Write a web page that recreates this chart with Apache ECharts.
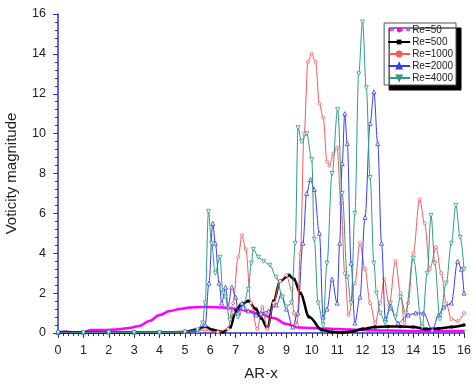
<!DOCTYPE html>
<html>
<head>
<meta charset="utf-8">
<script src="https://cdn.jsdelivr.net/npm/echarts@6/dist/echarts.min.js"></script>
<style>
html,body{margin:0;padding:0;background:#fff;}
#chart{width:474px;height:386px;}
</style>
</head>
<body>
<div id="chart"></div>
<script>
// ---- data ----
var seriesNames = ['Re=50', 'Re=500', 'Re=1000', 'Re=2000', 'Re=4000'];

var re50X = [0, 0.3, 0.6, 1.0, 1.3, 1.8, 2.3, 2.8, 3.2, 3.6, 4.0, 4.4, 4.8, 5.2, 5.6, 6.0, 6.5, 7.0, 7.5, 8.0, 8.5, 9.0, 9.5, 10.0, 10.5, 11.0, 11.5, 12.0, 13.0, 14.0, 15.0, 16.0];
var re50Y = [0.02, 0.08, 0.03, 0.05, 0.15, 0.15, 0.18, 0.25, 0.35, 0.6, 0.9, 1.1, 1.2, 1.28, 1.3, 1.3, 1.28, 1.22, 1.1, 0.95, 0.75, 0.45, 0.27, 0.25, 0.22, 0.2, 0.18, 0.15, 0.12, 0.1, 0.1, 0.1];

var re500X = [0, 1, 2, 3, 4, 5, 5.4, 5.8, 6.1, 6.5, 6.8, 7.0, 7.2, 7.5, 7.8, 8.0, 8.25, 8.5, 8.75, 9.1, 9.3, 9.55, 9.9, 10.4, 10.8, 11.2, 11.6, 12.0, 12.5, 13.0, 13.5, 14.0, 14.5, 15.0, 15.5, 16.0];
var re500Y = [0.02, 0.02, 0.02, 0.02, 0.03, 0.05, 0.15, 0.32, 0.15, 0.05, 0.3, 1.1, 1.4, 1.6, 1.2, 0.75, 0.25, 1.6, 2.6, 2.9, 2.7, 2.0, 0.8, 0.15, 0.05, 0.03, 0.08, 0.2, 0.3, 0.32, 0.32, 0.3, 0.2, 0.22, 0.3, 0.4];

var re1000X = [0, 1, 2, 3, 4, 5, 5.8, 6.3, 6.7, 6.9, 7.1, 7.25, 7.4, 7.6, 7.85, 8.05, 8.25, 8.5, 8.75, 9.0, 9.2, 9.3, 9.42, 9.55, 9.7, 9.85, 10.0, 10.15, 10.3, 10.45, 10.6, 10.7, 10.85, 11.0, 11.15, 11.3, 11.45, 11.7, 11.9, 12.1, 12.3, 12.5, 12.7, 12.85, 13.05, 13.3, 13.5, 13.65, 13.8, 14.0, 14.25, 14.45, 14.65, 14.9, 15.1, 15.3, 15.5, 15.75, 16.0];
var re1000Y = [0.02, 0.03, 0.03, 0.03, 0.03, 0.05, 0.15, 0.05, 0.2, 1.5, 3.8, 4.9, 4.2, 1.5, 0.2, 1.3, 0.2, 1.5, 2.6, 2.9, 2.2, 1.0, 0.4, 4.0, 10.0, 13.6, 14.0, 13.6, 11.5, 10.8, 8.6, 8.4, 9.0, 9.3, 6.5, 3.0, 0.9, 2.5, 4.5, 3.2, 1.5, 0.5, 1.5, 2.7, 1.4, 3.6, 2.0, 0.5, 1.5, 4.0, 6.7, 5.5, 3.2, 4.3, 3.0, 1.5, 0.7, 0.6, 1.0];

var re2000X = [0, 1, 2, 3, 4, 5, 5.5, 5.8, 5.95, 6.1, 6.2, 6.35, 6.45, 6.6, 6.7, 6.85, 7.0, 7.1, 7.25, 7.5, 7.8, 8.0, 8.3, 8.6, 8.8, 9.0, 9.25, 9.45, 9.65, 9.8, 9.95, 10.1, 10.3, 10.45, 10.6, 10.8, 11.0, 11.1, 11.2, 11.3, 11.4, 11.55, 11.7, 11.9, 12.1, 12.3, 12.45, 12.6, 12.75, 12.9, 13.1, 13.4, 13.8, 14.1, 14.4, 14.75, 15.0, 15.2, 15.5, 15.75, 15.9, 16.0];
var re2000Y = [0.02, 0.03, 0.05, 0.04, 0.05, 0.08, 0.1, 0.4, 2.5, 5.5, 4.5, 2.5, 1.5, 2.3, 1.3, 2.3, 1.8, 1.0, 1.5, 1.1, 0.9, 1.0, 1.1, 1.4, 1.9, 1.2, 0.3, 1.0, 4.5, 7.0, 7.7, 7.2, 5.0, 0.8, 1.2, 2.7, 1.5, 4.5, 8.5, 11.0, 9.5, 3.5, 0.5, 1.8, 5.8, 10.5, 12.1, 9.5, 4.5, 0.7, 1.25, 0.5, 0.9, 1.0, 1.0, 0.15, 0.9, 1.3, 1.5, 3.6, 3.2, 2.0];

var re4000X = [0, 1, 2, 3, 4, 5, 5.5, 5.7, 5.8, 5.93, 6.05, 6.2, 6.38, 6.5, 6.6, 6.77, 6.9, 7.1, 7.3, 7.5, 7.62, 7.7, 7.9, 8.1, 8.35, 8.6, 8.85, 9.0, 9.2, 9.35, 9.46, 9.6, 9.8, 10.0, 10.1, 10.25, 10.45, 10.6, 10.8, 11.02, 11.2, 11.4, 11.55, 11.7, 11.85, 12.0, 12.15, 12.3, 12.45, 12.55, 12.7, 12.9, 13.1, 13.3, 13.5, 13.7, 14.0, 14.35, 14.55, 14.7, 14.85, 15.05, 15.3, 15.5, 15.68, 15.85, 16.0];
var re4000Y = [0.02, 0.02, 0.03, 0.03, 0.03, 0.05, 0.15, 0.5, 1.5, 6.1, 4.5, 3.0, 3.8, 2.0, 1.8, 0.65, 1.0, 0.8, 1.2, 2.2, 3.5, 4.2, 3.8, 3.6, 3.4, 2.8, 1.8, 1.3, 1.5, 4.5, 10.3, 9.6, 10.0, 8.7, 4.7, 1.5, 0.4, 3.5, 8.0, 11.2, 7.0, 2.8, 1.5, 6.0, 13.0, 15.6, 12.3, 7.8, 3.5, 2.0, 1.0, 0.5, 1.5, 0.8, 1.8, 1.0, 3.75, 0.3, 3.0, 5.9, 3.5, 0.7, 2.5, 4.5, 6.4, 4.8, 3.2];

var xTicks = [0, 16, 1];   // min, max, interval
var yTicks = [0, 16, 2];

// ---- build ----
function pairs(xs, ys) { return xs.map(function (x, i) { return [x, ys[i]]; }); }

var colors = ['#ff00ff', '#000000', '#f25a5a', '#3a3af0', '#2f9a8a'];
var seriesData = [pairs(re50X, re50Y), pairs(re500X, re500Y), pairs(re1000X, re1000Y), pairs(re2000X, re2000Y), pairs(re4000X, re4000Y)];
var symbols = ['circle', 'rect', 'circle', 'triangle', 'triangle'];
var rotates = [0, 0, 0, 0, 180];
var widths = [2.5, 2.5, 1, 1, 1];
var sizes = [2, 3, 3, 4, 4];
var hollow = [false, false, true, true, true];

var series = seriesNames.map(function (n, i) {
  return {
    name: n,
    type: 'line',
    data: seriesData[i],
    smooth: 0.35,
    smoothMonotone: 'x',
    symbol: symbols[i],
    symbolRotate: rotates[i],
    symbolSize: sizes[i],
    showSymbol: true,
    showAllSymbol: true,
    z: 2 + i,
    lineStyle: { color: colors[i], width: widths[i] },
    itemStyle: hollow[i] ? { color: '#ffffff', borderColor: colors[i], borderWidth: 0.8 } : { color: colors[i] },
    emphasis: { disabled: true }
  };
});

var chart = echarts.init(document.getElementById('chart'), null, { renderer: 'canvas' });
var axisCol = '#3030d0';
var fontFam = '"Liberation Sans", Arial, sans-serif';
chart.setOption({
  animation: false,
  backgroundColor: '#ffffff',
  grid: { left: 58, right: 10, top: 14, bottom: 53, containLabel: false, outerBoundsMode: 'none' },
  legend: {
    orient: 'vertical',
    right: 18,
    top: 23,
    data: seriesNames.map(function (n, i) {
      var d = { name: n };
      if (hollow[i]) d.itemStyle = { color: colors[i] };
      if (i === 0) d.lineStyle = { type: 'dashed', width: 1.5 };
      return d;
    }),
    itemWidth: 22,
    itemHeight: 6,
    itemGap: 2,
    padding: [2, 3, 2, 3],
    backgroundColor: '#ffffff',
    borderColor: '#555555',
    borderWidth: 1,
    borderRadius: 0,
    shadowColor: '#000000',
    shadowOffsetX: 5,
    shadowOffsetY: 5,
    shadowBlur: 0,
    textStyle: { fontFamily: fontFam, fontSize: 10, color: '#222', padding: [0, 0, 0, -3] }
  },
  xAxis: {
    type: 'value',
    min: xTicks[0], max: xTicks[1], interval: xTicks[2],
    name: 'AR-x',
    nameLocation: 'middle',
    nameGap: 33,
    nameTextStyle: { fontFamily: fontFam, fontSize: 15, color: '#222' },
    axisLine: { show: true, lineStyle: { color: axisCol, width: 1.5 } },
    axisTick: { show: true, inside: false, length: 5, lineStyle: { color: '#333', width: 1 } },
    minorTick: { show: true, splitNumber: 5, length: 3, lineStyle: { color: '#333', width: 1 } },
    axisLabel: { margin: 11, fontFamily: fontFam, fontSize: 12.5, color: '#222' },
    splitLine: { show: false }
  },
  yAxis: {
    type: 'value',
    min: yTicks[0], max: yTicks[1], interval: yTicks[2],
    name: 'Voticity magnitude',
    nameLocation: 'middle',
    nameGap: 39,
    nameRotate: 90,
    nameTextStyle: { fontFamily: fontFam, fontSize: 15, color: '#222' },
    axisLine: { show: true, lineStyle: { color: axisCol, width: 1.5 } },
    axisTick: { show: true, inside: false, length: 5, lineStyle: { color: axisCol, width: 1 } },
    minorTick: { show: true, splitNumber: 5, length: 3, lineStyle: { color: axisCol, width: 1 } },
    axisLabel: { margin: 12, fontFamily: fontFam, fontSize: 12.5, color: '#222' },
    splitLine: { show: false }
  },
  series: series
});
</script>
</body>
</html>
